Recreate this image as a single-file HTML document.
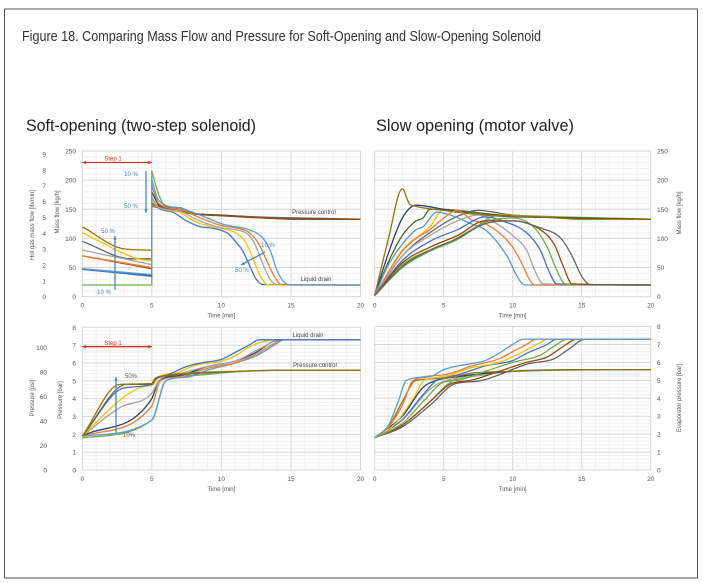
<!DOCTYPE html>
<html><head><meta charset="utf-8"><style>
html,body{margin:0;padding:0;background:#fff;}
svg{display:block;font-family:"Liberation Sans",sans-serif;}
</style></head><body>
<svg id="fig" width="703" height="583" viewBox="0 0 703 583">
<rect x="4.5" y="9" width="693" height="569" fill="#fff" stroke="#555" stroke-width="1"/>
<text x="22" y="41" font-size="15" fill="#333" textLength="519" lengthAdjust="spacingAndGlyphs">Figure 18. Comparing Mass Flow and Pressure for Soft-Opening and Slow-Opening Solenoid</text>
<text x="26" y="131" font-size="17" fill="#222" textLength="230" lengthAdjust="spacingAndGlyphs">Soft-opening (two-step solenoid)</text>
<text x="376" y="131" font-size="17" fill="#222" textLength="198" lengthAdjust="spacingAndGlyphs">Slow opening (motor valve)</text>
<g id="layer"></g>
</svg>
<script>
const C={blue:'#4472C4',orange:'#ED7D31',gray:'#A5A5A5',yellow:'#FFC000',lblue:'#5B9BD5',green:'#70AD47',navy:'#264478',brown:'#9E480E',dgray:'#636363',olive:'#997300',dgreen:'#43682B'};
const xTicks=[0,5,10,15,20];
const flowTicks=[0,50,100,150,200,250];
const lbTicks=[0,1,2,3,4,5,6,7,8,9];
const barTicks=[0,1,2,3,4,5,6,7,8];
const psiTicks=[0,20,40,60,80,100];
// Top-left: soft-opening mass flow [kg/h]
const tlGreen=[[0,20],[5,20],[5,215],[5.5,175],[6,155],[7,153],[8,143],[10,140],[12,137],[14,134],[20,133]];
const tlNavy=[[0,47],[5,37],[5,180],[5.5,158],[6.5,153],[8,143],[10,140],[13,136],[15,133],[20,133]];
const tlOlive=[[0,120],[3,82],[5,80],[5,155],[6,150],[8,142],[10,139],[13,135],[20,133]];
const tlDgray=[[0,95],[3.5,65],[5,65],[5,158],[6,152],[8,142],[11,138],[20,133]];
const tlBrown=[[0,70],[5,48],[5,160],[6,153],[8,143],[11,138],[14,134],[20,133]];
const tlBlue=[[0,47],[5,35],[5,170],[5.5,152],[6.5,145],[7.5,130],[8.5,120],[9.5,117],[10.5,108],[11,95],[11.5,80],[12,55],[12.5,30],[13,21],[20,20]];
const tlYellow=[[0,110],[4,65],[5,62],[5,165],[5.5,153],[7,145],[8,130],[9,122],[10,117],[11,110],[11.7,95],[12.2,70],[12.7,40],[13.2,22],[13.5,20],[20,20]];
const tlGray=[[0,80],[5,55],[5,170],[5.5,153],[7,147],[8,135],[9,125],[10,118],[11,115],[12,105],[12.5,85],[13,55],[13.5,30],[14,21],[20,20]];
const tlOrange=[[0,70],[5,50],[5,190],[5.5,160],[7,150],[8.5,135],[10,122],[11,118],[12,110],[12.7,90],[13.2,65],[13.8,35],[14.3,21],[20,20]];
const tlLblue=[[0,48],[5,38],[5,200],[5.5,165],[7,152],[9,135],[10,125],[11,120],[12,115],[13,100],[13.5,80],[14,45],[14.5,25],[15,20],[20,20]];
// Bottom-left: soft-opening pressure [bar]
const blOlive=[[0,1.9],[2.7,4.8],[5,4.85],[5.2,5.1],[6,5.3],[8,5.45],[12,5.55],[15,5.6],[20,5.6]];
const blNavy=[[0,1.9],[3.2,4.8],[5,4.8],[5.3,5.1],[6.5,5.3],[9,5.45],[15,5.6],[20,5.6]];
const blGreen=[[0,1.8],[5,2.8],[6,5.0],[8,5.3],[11,5.5],[15,5.6],[20,5.6]];
const blBlue=[[0,1.9],[3,4.6],[5,4.8],[5.2,5.1],[6,5.3],[7.5,5.8],[8.5,6.0],[10,6.2],[11,6.6],[12,7.0],[12.7,7.3],[20,7.3]];
const blYellow=[[0,1.9],[3,4.1],[4.5,4.7],[5,4.75],[5.5,5.2],[7,5.5],[8,5.85],[10,6.1],[11,6.4],[12,6.9],[13,7.2],[13.7,7.3],[20,7.3]];
const blGray=[[0,1.9],[2.7,3.5],[5,4.3],[5.5,5.0],[7,5.4],[9,5.8],[11,6.1],[12.5,6.7],[13.5,7.1],[14,7.3],[20,7.3]];
const blDnavy=[[0,1.9],[5,4.0],[5.5,5.0],[7,5.3],[9,5.8],[11,6.1],[12.5,6.6],[13.7,7.2],[14.2,7.3],[20,7.3]];
const blOrange=[[0,1.9],[5,3.6],[5.6,5.0],[7,5.25],[9,5.7],[11,6.0],[12.5,6.5],[13.8,7.1],[14.3,7.3],[20,7.3]];
const blLblue=[[0,1.9],[5,2.8],[6,5.0],[7.5,5.2],[9,5.6],[11,6.0],[12.5,6.4],[13.8,7.0],[14.5,7.3],[20,7.3]];
// Top-right: slow-opening mass flow [kg/h]
const trOlive=[[0,2],[1,100],[2,185],[2.5,160],[3,155],[5,148],[8,140],[12,137],[15,133],[20,133]];
const trNavy=[[0,2],[1,75],[2,135],[3,157],[5,150],[8,140],[12,136],[20,133]];
const trDgreen=[[0,2],[1,60],[2,105],[3,130],[3.5,135],[4,150],[6,148],[9,140],[20,133]];
const trYellow=[[0,2],[2,80],[4,120],[5,150],[7,145],[10,139],[20,133]];
const trDgray2=[[0,2],[2,70],[4,110],[6,138],[7.5,148],[10,140],[20,133]];
const trLgreen=[[0,2],[2,55],[4,80],[5,88],[7,115],[9,140],[12,138],[20,133]];
const trLblue=[[0,2],[1,55],[2,90],[3,115],[3.5,120],[4.5,145],[5.5,140],[7,125],[8,115],[9,90],[9.7,65],[10.2,40],[10.7,22],[11,20],[20,20]];
const trOrange=[[0,2],[2,78],[3,100],[4,115],[5,135],[6,148],[7,132],[8,125],[9,110],[10,85],[10.6,60],[11.2,30],[11.6,20],[20,20]];
const trGray=[[0,2],[2,70],[4,105],[6,130],[7.5,140],[8.5,130],[10,105],[11,80],[11.6,45],[12.2,22],[20,20]];
const trBlue=[[0,2],[2,62],[4,95],[6,115],[8,137],[9.5,128],[11,110],[12,80],[12.6,45],[13.2,22],[20,20]];
const trGreen=[[0,2],[2,50],[4,78],[6,98],[8,128],[10,135],[11.5,120],[12.5,85],[13.2,45],[13.8,22],[20,20]];
const trBrown=[[0,2],[2,58],[4,85],[6,105],[8,130],[10,130],[12,115],[13,90],[13.7,50],[14.3,22],[20,20]];
const trDgray=[[0,2],[2,52],[4,80],[6,100],[8,125],[10,130],[12,118],[13.5,100],[14.3,70],[15,35],[15.6,21],[20,20]];
// Bottom-right: slow-opening evaporator pressure [bar]
const brLblue=[[0,1.8],[1,2.5],[1.7,3.8],[2.3,5],[4,5.2],[5,5.6],[6,5.8],[8,6.1],[9,6.5],[10,7.0],[10.8,7.3],[20,7.3]];
const brOrange=[[0,1.8],[1,2.4],[2,3.6],[2.8,5],[5,5.3],[7,5.8],[9,6.2],[10,6.6],[11,7.0],[11.7,7.3],[20,7.3]];
const brYellow=[[0,1.8],[1.5,2.6],[2.8,4],[3.6,5],[5,5.2],[7,5.7],[9,6.0],[10.5,6.5],[12,7.1],[12.5,7.3],[20,7.3]];
const brBlue=[[0,1.8],[2,2.8],[3.5,4.2],[4.5,5],[6,5.3],[8,5.8],[10,6.1],[11,6.5],[12.5,7.0],[13.2,7.3],[20,7.3]];
const brGreen=[[0,1.8],[2,2.6],[3.5,3.8],[5,4.9],[6,5.0],[8,5.5],[10,6.0],[12,6.4],[13,6.9],[14,7.3],[20,7.3]];
const brBrown=[[0,1.8],[2,2.5],[4,3.8],[5.5,4.8],[7,5.0],[9,5.5],[11,6.0],[12.5,6.3],[13.5,6.8],[14.7,7.3],[20,7.3]];
const brDgray=[[0,1.8],[2,2.4],[4,3.6],[5.8,4.8],[7.5,4.95],[9,5.3],[11,5.9],[13,6.2],[14,6.7],[15.3,7.3],[20,7.3]];
const brOlive=[[0,1.8],[1,2.4],[2,3.8],[3,5],[5,5.1],[7,5.4],[10,5.5],[15,5.6],[20,5.6]];
const brNavy=[[0,1.8],[2,3.0],[3.5,4.6],[4.5,5],[6,5.2],[9,5.45],[15,5.6],[20,5.6]];
const brGray=[[0,1.8],[2,2.8],[4,4.5],[5,4.95],[7,5.2],[10,5.5],[20,5.6]];
const brLgreen=[[0,1.8],[2,2.5],[4,3.8],[5.5,4.9],[8,5.3],[11,5.55],[20,5.6]];

const NS='http://www.w3.org/2000/svg';
const layer=document.getElementById('layer');
function el(tag,attrs,parent,txt){const e=document.createElementNS(NS,tag);for(const k in attrs)e.setAttribute(k,attrs[k]);if(txt!==undefined)e.textContent=txt;(parent||layer).appendChild(e);return e;}

// monotone cubic path through pixel points; vertical jumps (equal x) drawn as straight lines
function monoSeg(P){
  const n=P.length;if(n<2)return '';
  if(n===2)return `L${P[1][0].toFixed(1)},${P[1][1].toFixed(1)}`;
  const d=[],m=[];
  for(let i=0;i<n-1;i++)d.push((P[i+1][1]-P[i][1])/(P[i+1][0]-P[i][0]));
  m[0]=d[0];m[n-1]=d[n-2];
  for(let i=1;i<n-1;i++){m[i]=(d[i-1]*d[i]<=0)?0:(d[i-1]+d[i])/2;}
  for(let i=0;i<n-1;i++){if(d[i]===0){m[i]=0;m[i+1]=0;continue;}
    const a=m[i]/d[i],b=m[i+1]/d[i],s=a*a+b*b;if(s>9){const t=3/Math.sqrt(s);m[i]=t*a*d[i];m[i+1]=t*b*d[i];}}
  let s='';
  for(let i=0;i<n-1;i++){const h=(P[i+1][0]-P[i][0])/3;
    s+=`C${(P[i][0]+h).toFixed(1)},${(P[i][1]+m[i]*h).toFixed(1)} ${(P[i+1][0]-h).toFixed(1)},${(P[i+1][1]-m[i+1]*h).toFixed(1)} ${P[i+1][0].toFixed(1)},${P[i+1][1].toFixed(1)}`;}
  return s;
}
function smoothPath(P){
  let s=`M${P[0][0].toFixed(1)},${P[0][1].toFixed(1)}`;let seg=[P[0]];
  for(let i=1;i<P.length;i++){
    if(Math.abs(P[i][0]-P[i-1][0])<0.01){s+=monoSeg(seg);s+=`L${P[i][0].toFixed(1)},${P[i][1].toFixed(1)}`;seg=[P[i]];}
    else seg.push(P[i]);
  }
  s+=monoSeg(seg);return s;
}

function chart(cfg){
  const g=el('g',{});
  
  
  const X=t=>cfg.x0+(cfg.x1-cfg.x0)*t/20;
  const Y=v=>cfg.y0+(cfg.y1-cfg.y0)*v/cfg.ymax;
  for(let t=0;t<=20;t+=1){const l=el('line',{x1:X(t),x2:X(t),y1:Y(0),y2:Y(cfg.ymax),stroke:t%5?'#f0f0f0':'#d6d6d6','stroke-width':1},g);
    }
  for(let v=0;v<=cfg.ymax+1e-9;v+=cfg.minor){const major=Math.abs(v/cfg.major-Math.round(v/cfg.major))<1e-6;
    const l=el('line',{x1:X(0),x2:X(20),y1:Y(v),y2:Y(v),stroke:major?'#d6d6d6':'#f0f0f0','stroke-width':1},g);
    }
  xTicks.forEach(t=>{const tx=el('text',{x:X(t),y:Y(0)+11,'font-size':6.5,fill:'#555','text-anchor':'middle'},g,t);
    });
  const xt=el('text',{x:(X(0)+X(20))/2,y:Y(0)+21,'font-size':6,fill:'#555','text-anchor':'middle'},g,'Time [min]');
  
  cfg.ticks.forEach(v=>{const tx=el('text',{x:cfg.tickX,y:Y(v)+2.5,'font-size':6.5,fill:'#555','text-anchor':cfg.tickAnchor},g,v);
    });
  if(cfg.ticks2){cfg.ticks2.forEach(v=>{const tx=el('text',{x:cfg.tick2X,y:cfg.y0+(cfg.y1-cfg.y0)*v/cfg.t2max+2.5,'font-size':6.5,fill:'#555','text-anchor':'end'},g,v);
    });}
  cfg.titles.forEach(tt=>{const tx=el('text',{x:tt[0],y:tt[1],'font-size':6,fill:'#555','text-anchor':'middle',transform:`rotate(-90 ${tt[0]} ${tt[1]})`},g,tt[2]);
    });
  cfg.series.forEach(s=>{const pts=s[0].map(p=>[X(p[0]),Y(p[1])]);
    const p=el('path',{d:smoothPath(pts),fill:'none',stroke:s[1],'stroke-width':1.3,'stroke-linejoin':'round'},g);
    });
  return {g,X,Y};
}
const tl=chart({name:'soft-opening-mass-flow-chart',x0:82.3,x1:360.5,y0:296.7,y1:151,ymax:250,minor:10,major:50,ticks:flowTicks,tickX:76,tickAnchor:'end',
  ticks2:lbTicks,tick2X:46,t2max:9.19, titles:[[34,225,'Hot gas mass flow [lb/min]'],[59,212,'Mass flow [kg/h]']],
  series:[[tlGreen,C.green],[tlNavy,C.navy],[tlOlive,C.olive],[tlDgray,C.dgray],[tlBrown,C.brown],[tlBlue,C.blue],[tlYellow,C.yellow],[tlGray,C.gray],[tlOrange,C.orange],[tlLblue,C.lblue]]});
const bl=chart({name:'soft-opening-pressure-chart',x0:82.3,x1:360.5,y0:470,y1:327.3,ymax:8,minor:0.2,major:1,ticks:barTicks,tickX:76,tickAnchor:'end',
  ticks2:psiTicks,tick2X:47,t2max:116.7, titles:[[34,398,'Pressure [psi]'],[62,400,'Pressure  [bar]']],
  series:[[blGreen,C.green],[blLblue,C.lblue],[blOrange,C.orange],[blDnavy,C.navy],[blGray,C.gray],[blYellow,C.yellow],[blBlue,C.blue],[blNavy,C.dgray],[blOlive,C.olive]]});
const tr=chart({name:'slow-opening-mass-flow-chart',x0:374.7,x1:650.7,y0:296.7,y1:151,ymax:250,minor:10,major:50,ticks:flowTicks,tickX:657,tickAnchor:'start',
  titles:[[681,213,'Mass flow [kg/h]']],
  series:[[trLgreen,C.green],[trDgray2,C.dgray],[trYellow,C.yellow],[trDgreen,C.dgreen],[trNavy,C.navy],[trOlive,C.olive],[trLblue,C.lblue],[trOrange,C.orange],[trGray,C.gray],[trBlue,C.blue],[trGreen,C.green],[trBrown,C.brown],[trDgray,C.dgray]]});
const br=chart({name:'slow-opening-pressure-chart',x0:374.7,x1:650.7,y0:470,y1:326.5,ymax:8,minor:0.2,major:1,ticks:barTicks,tickX:657,tickAnchor:'start',
  titles:[[681,398,'Evaporator pressure [bar]']],
  series:[[brLgreen,C.green],[brGray,C.gray],[brNavy,C.navy],[brOlive,C.olive],[brDgray,C.dgray],[brBrown,C.brown],[brGreen,C.green],[brBlue,C.blue],[brYellow,C.yellow],[brOrange,C.orange],[brLblue,C.lblue]]});

function note(x,y,txt,color,name){const t=el('text',{x:x,y:y,'font-size':6,fill:color,'text-anchor':'middle'},layer,txt);
  return t;}
function arrow(x1,y1,x2,y2,color,name,both){const a=el('g',{});
  
  el('line',{x1,y1,x2,y2,stroke:color,'stroke-width':1.3},a);
  const head=(xa,ya,xb,yb)=>{const ang=Math.atan2(yb-ya,xb-xa),L=4;
    el('path',{d:`M${xb},${yb}L${xb-L*Math.cos(ang-0.45)},${yb-L*Math.sin(ang-0.45)}L${xb-L*Math.cos(ang+0.45)},${yb-L*Math.sin(ang+0.45)}Z`,fill:color},a);};
  head(x1,y1,x2,y2);if(both)head(x2,y2,x1,y1);}
const red='#d9342b',bl2='#4a86c8';
arrow(tl.X(0),162.5,tl.X(5),162.5,red,'step1-arrow',true);note(113,160.5,'Step 1',red,'step1-label');
note(131,176,'10 %',bl2,'label-10pct');arrow(146,171,146,213,bl2,'arrow-10-to-50');note(131,208,'50 %',bl2,'label-50pct');
note(108,233,'50 %',bl2,'label-50pct-pre');arrow(115,290,115,236,bl2,'arrow-pre-step');note(104,294,'10 %',bl2,'label-10pct-pre');
note(314,214,'Pressure control','#444','pressure-control-label');
note(268,247,'10 %',bl2,'label-10pct-drain');arrow(265,252,241,265,bl2,'arrow-drain');note(242,272,'50 %',bl2,'label-50pct-drain');
note(316,281,'Liquid drain','#444','liquid-drain-label');
arrow(bl.X(0),346.7,bl.X(5),346.7,red,'step1-arrow-pressure',true);note(113,345,'Step 1',red,'step1-label-pressure');
note(131,378,'50%','#555','label-50pct-pressure');arrow(116,433,116,377,bl2,'arrow-pressure');note(129,437,'10%','#555','label-10pct-pressure');
note(308,337,'Liquid drain','#444','liquid-drain-label-pressure');note(315,367,'Pressure control','#444','pressure-control-label-pressure');
</script>
</body></html>
